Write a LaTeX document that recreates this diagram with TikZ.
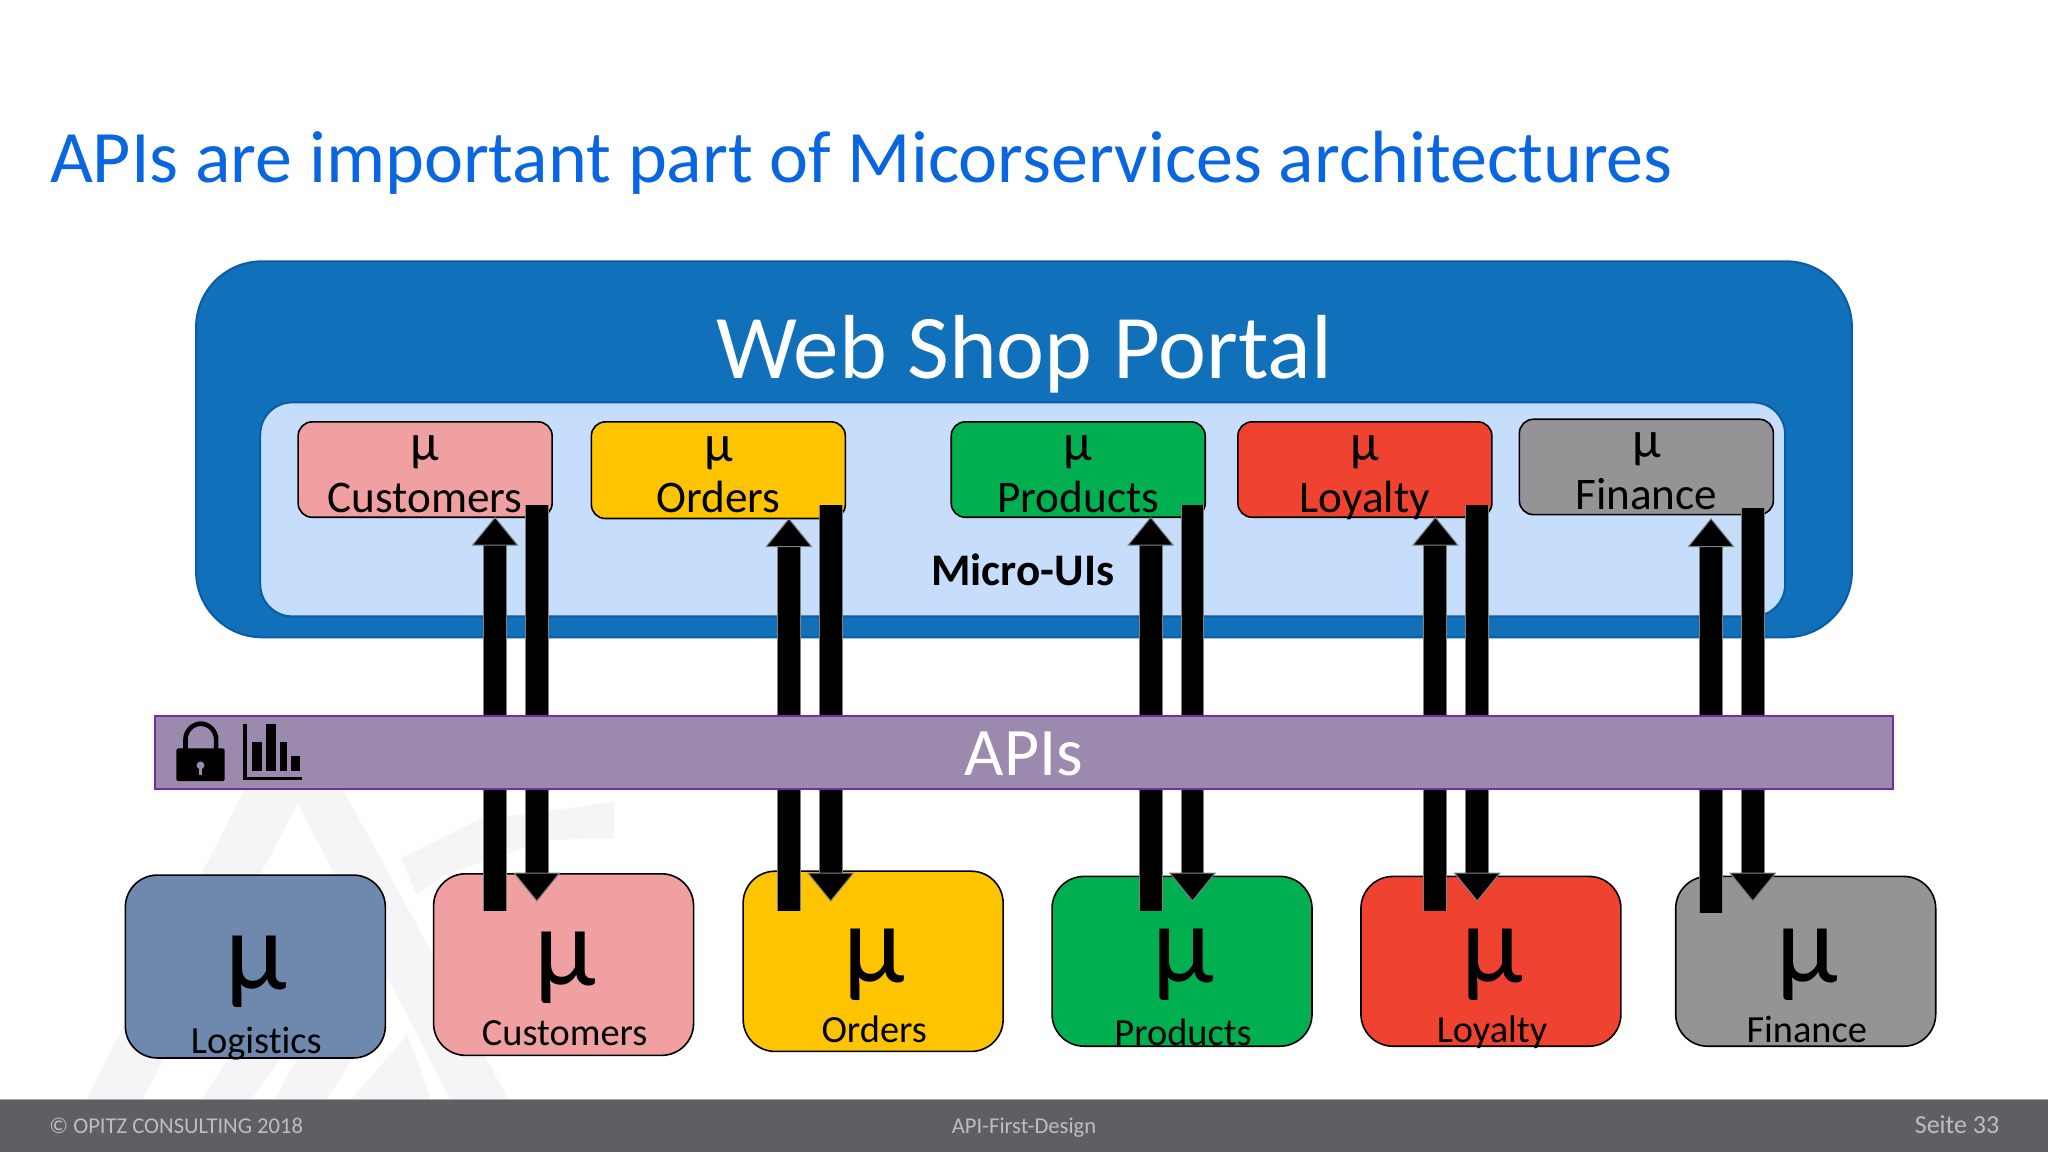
\documentclass[tikz,border=0pt]{standalone}
\usepackage{fontspec}
\setmainfont{Carlito}[Ligatures=NoCommon]
\usepackage{tikz}
\usetikzlibrary{arrows.meta,positioning}
\definecolor{portalblue}{HTML}{1070BA}
\definecolor{portalline}{HTML}{0A5CA8}
\definecolor{uiblue}{HTML}{C6DEFB}
\definecolor{titleblue}{HTML}{0A66E0}
\definecolor{apifill}{HTML}{9B8AAE}
\definecolor{apiline}{HTML}{7030A0}
\definecolor{footgrey}{HTML}{5F5E62}
\definecolor{foottext}{HTML}{BDBDBD}
\definecolor{markgrey}{HTML}{F5F4F7}
\definecolor{cLogistics}{HTML}{6E88AE}
\definecolor{cCustomers}{HTML}{F0A0A0}
\definecolor{cOrders}{HTML}{FFC400}
\definecolor{cProducts}{HTML}{00B050}
\definecolor{cLoyalty}{HTML}{F04230}
\definecolor{cFinance}{HTML}{949496}

\begin{document}
\begin{tikzpicture}[x=0.6531pt, y=-0.6531pt]
    % Estilos
    \tikzstyle{portal} = [rectangle, draw=portalline, line width=1pt, fill=portalblue, rounded corners=33pt, minimum width=828pt, minimum height=188pt]
    \tikzstyle{microuis} = [rectangle, draw=portalline, line width=1pt, fill=uiblue, rounded corners=16pt, minimum width=762.5pt, minimum height=107pt]
    \tikzstyle{uibox} = [rectangle, draw=black, line width=0.8pt, rounded corners=7pt, inner sep=0pt, minimum width=127pt]
    \tikzstyle{uimu} = [inner sep=0pt, anchor=base, font=\fontsize{26}{30}\selectfont]
    \tikzstyle{uiname} = [inner sep=0pt, anchor=base, font=\fontsize{22.6}{25}\selectfont]
    \tikzstyle{svcbox} = [rectangle, draw=black, line width=0.8pt, rounded corners=16pt, minimum width=130pt]
    \tikzstyle{svcmu} = [inner sep=0pt, font=\fontsize{56}{60}\selectfont]
    \tikzstyle{svcname} = [inner sep=0pt, font=\fontsize{19.2}{22}\selectfont]
    \tikzstyle{apibar} = [rectangle, draw=apiline, line width=1pt, fill=apifill, minimum width=869pt, minimum height=36.5pt]
    \tikzstyle{foot} = [inner sep=0pt, anchor=base, text=foottext, font=\fontsize{11.3}{14}\selectfont]
    \tikzstyle{flow} = [draw=gray, line width=0.5pt, double=black, double distance=11pt, -{Triangle[length=14.5pt,width=23.5pt,fill=black]}]

    \useasboundingbox (0,0) rectangle (1568,882);

    % Marca d'agua
    \fill [markgrey] (187,605) -- (263,605) -- (332,732) -- (389,842) -- (345,842) -- (228,615) -- (109,842) -- (66,842) -- cycle;
    \fill [markgrey] (154,842) -- (192,842) -- (215,810) -- (175,810) -- cycle;
    \fill [markgrey] (210,842) -- (250,842) -- (270,810) -- (228,810) -- cycle;
    \fill [markgrey] (269,842) -- (330,842) -- (312,792) -- cycle;
    \fill [markgrey] (307,657) -- (365,628) -- (470,614) -- (470,642) -- (420,643) -- (340,670) -- (319,685) -- cycle;

    % Faixa inferior
    \node [rectangle, fill=footgrey, draw=none, minimum width=1024.06pt, minimum height=26.2pt, inner sep=0pt, anchor=north west] (rodape) at (0,842) {};
    \draw [gray!70, line width=0.5pt] (rodape.north west) -- (rodape.north east);
    \node [foot, anchor=base west] (copyright) at (37.5,867.5) {© OPITZ CONSULTING 2018};
    \node [foot] (tema) at (784,867.5) {API-First-Design};
    \node [foot, anchor=base east, font=\fontsize{13}{15}\selectfont] (pagina) at (1531,867.5) {Seite 33};

    % Titulo
    \node [anchor=base west, inner sep=0pt, text=titleblue, font=\fontsize{37}{44}\selectfont] (titulo) at (38,139.5) {APIs are important part of Micorservices architectures};

    % Portal
    \node [portal] (webshop) at (784,344) {};
    \node [microuis] (micro) at (783,390) {};
    \node [inner sep=0pt, text=white, font=\fontsize{45.5}{50}\selectfont] (webshoptext) at (784,271) {Web Shop Portal};
    \node [inner sep=0pt, font=\bfseries\fontsize{22.6}{25}\selectfont] (microtext) at (783,436) {Micro-UIs};

    % Micro-UIs
    \foreach \s/\cx/\cy/\h in {Customers/325.5/359.5/73, Orders/550/360/74, Products/825.5/359.5/73, Loyalty/1045/359.5/73, Finance/1260.5/357.5/73} {
        \node [uibox, fill=c\s, minimum height=\h*0.6531pt] (ui\s) at (\cx,\cy) {};
        \node [uimu] (umu\s) at ([shift={(0,-7)}]ui\s.center) {μ};
        \node [uiname] (uname\s) at ([shift={(0,32.5)}]ui\s.center) {\s};
    }

    % Microservicos
    \foreach \s/\cx/\cy/\h/\muy/\naming in {Logistics/195.5/740/140/744/799, Customers/431.5/738.5/139/741/791, Orders/668.5/736/138/739/788, Products/905/736/130/739/790, Loyalty/1141.5/736/130/739/790, Finance/1382.5/736/130/739/788} {
        \node [svcbox, fill=c\s, minimum height=\h*0.6531pt] (svc\s) at (\cx,\cy) {};
        \node [svcmu] (mu\s) at (\cx+1,\muy) {μ};
        \node [svcname] (name\s) at (\cx+0.8,\naming) {\s};
    }

    % Conexoes
    \foreach \s/\a/\b/\c/\d/\t/\e/\f/\g in {Customers/-52.5/-20.5/53.5/85.5/29/-1/-10/22, Orders/-64.5/-32.5/54/86/31/-1/-11/24, Products/-24/8/55.5/87.5/27/-1/-10/20, Loyalty/-42.5/-10.5/54/86/27/-1/-10/20, Finance/-72.5/-40.5/49.5/81.5/29/2/-6/20} {
        \draw [flow] ([shift={(\a,\t)}]svc\s.north) -- ([shift={(\c,\e)}]ui\s.south);
        \draw [flow] ([shift={(\d,\f)}]ui\s.south) -- ([shift={(\b,\g)}]svc\s.north);
    }

    % APIs
    \node [apibar] (apis) at (784,576) {};
    \node [inner sep=0pt, text=white, font=\fontsize{34}{38}\selectfont] (apitext) at (784,577.5) {APIs};

    % Cadeado
    \fill [black, rounded corners=1pt] (135,573) rectangle (172,598);
    \draw [black, line width=2.3pt, rounded corners=8pt] (142,575) -- (142,554) -- (165.5,554) -- (165.5,575);
    \fill [apifill] (153.5,586) circle [radius=3];
    \fill [apifill] (152,586) rectangle (155,593);

    % Grafico
    \fill [black] (186,554) rectangle (189,597.5);
    \fill [black] (186,594.5) rectangle (231,597.5);
    \fill [black] (193,568) rectangle (200.5,590);
    \fill [black] (203.5,554) rectangle (211,590);
    \fill [black] (214,568) rectangle (220,590);
    \fill [black] (222.5,579) rectangle (230,590);
\end{tikzpicture}
\end{document}
